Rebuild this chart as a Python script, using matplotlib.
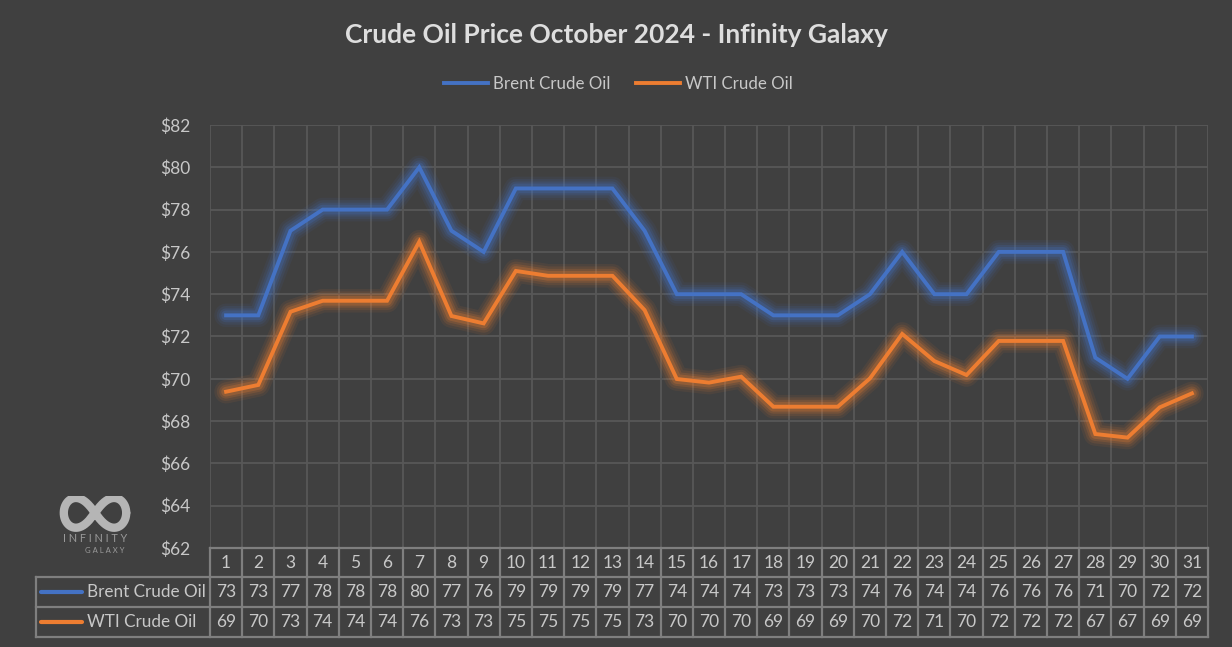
import numpy as np
import matplotlib
matplotlib.use("Agg")
import matplotlib.pyplot as plt
from matplotlib.ticker import FuncFormatter

plt.rcParams['font.family'] = ['Lato', 'DejaVu Sans']

# data
days = list(range(1, 32))
brent = [73, 73, 77, 78, 78, 78, 80, 77, 76, 79, 79, 79, 79, 77, 74, 74,
         74, 73, 73, 73, 74, 76, 74, 74, 76, 76, 76, 71, 70, 72, 72]
wti = [69.39, 69.71, 73.17, 73.69, 73.69, 73.69, 76.48, 72.97, 72.62, 75.10,
       74.87, 74.87, 74.87, 73.25, 69.99, 69.82, 70.10, 68.68, 68.68, 68.68,
       70.02, 72.12, 70.84, 70.18, 71.79, 71.79, 71.79, 67.39, 67.22, 68.65, 69.31]
series_names = ['Brent Crude Oil', 'WTI Crude Oil']
series_colors = ['#4472C4', '#ED7D31']
title = 'Crude Oil Price October 2024 - Infinity Galaxy'

BG = '#404040'
TXT = '#c8c8c8'
GRID = '#585858'
TBL = '#7f7f7f'

W, H = 1232, 647
fig = plt.figure(figsize=(W / 100, H / 100), dpi=100, facecolor=BG)

# plot area in pixels: x 210..1208, y 125..548
ax = fig.add_axes([210 / W, (H - 548) / H, 998 / W, 423 / H])
ax.set_facecolor(BG)
ax.set_xlim(0.5, 31.5)
ax.set_ylim(62, 82)
ax.set_yticks(np.arange(62, 83, 2))
ax.yaxis.set_major_formatter(FuncFormatter(lambda v, p: f'${v:.0f}'))
ax.set_xticks(np.arange(0.5, 32, 1))
ax.set_xticklabels([])
ax.tick_params(length=0, colors=TXT, labelsize=12.5, pad=14)
ax.grid(True, color=GRID, lw=1.3)
ax.set_axisbelow(True)
for s in ax.spines.values():
    s.set_visible(False)

# lines with glow
handles = []
for vals, col, name in zip([brent, wti], series_colors, series_names):
    for lw, a in [(17, 0.08), (13.5, 0.11), (10, 0.16), (7, 0.24)]:
        ax.plot(days, vals, color=col, lw=lw, alpha=a, solid_capstyle='round',
                solid_joinstyle='round', zorder=2)
    h, = ax.plot(days, vals, color=col, lw=2.8, solid_joinstyle='miter', zorder=3, label=name)
    handles.append(h)

fig.text(616 / W, 1 - 35 / H, title, ha='center', va='center', fontsize=19,
         fontweight='bold', color='#dedede')

leg = fig.legend(handles=handles, loc='center', bbox_to_anchor=(618 / W, 1 - 84 / H),
                 ncol=2, frameon=False, fontsize=12.2, handlelength=2.6,
                 handletextpad=0.3, columnspacing=1.5)
for t in leg.get_texts():
    t.set_color(TXT)

# data table under the plot
tr = ax.get_xaxis_transform()
px = 1 / 423
rows = [0, -29 * px, -59 * px, -89 * px]
left = 0.5 - 174 / (998 / 31)
kw = dict(transform=tr, clip_on=False, color=TBL, lw=1.6, zorder=4)
ax.plot([0.5, 31.5], [rows[0], rows[0]], **kw)
for r in rows[1:]:
    ax.plot([left, 31.5], [r, r], **kw)
for x in np.arange(0.5, 32, 1):
    ax.plot([x, x], [rows[0], rows[3]], **kw)
ax.plot([left, left], [rows[1], rows[3]], **kw)

for d in days:
    ax.text(d, (rows[0] + rows[1]) / 2, str(d), transform=tr, ha='center',
            va='center', fontsize=12.5, color=TXT)
for i, vals in enumerate([brent, wti]):
    yc = (rows[i + 1] + rows[i + 2]) / 2
    for d, v in zip(days, vals):
        ax.text(d, yc, f'{v:.0f}', transform=tr, ha='center', va='center',
                fontsize=12.5, color=TXT)
    ax.plot([left + 5 / 32.19, left + 46 / 32.19], [yc, yc], transform=tr,
            clip_on=False, color=series_colors[i], lw=3, solid_capstyle='round')
    ax.text(left + 51 / 32.19, yc, series_names[i], transform=tr, ha='left',
            va='center', fontsize=12.3, color=TXT)

# logo
lax = fig.add_axes([56 / W, (H - 562) / H, 78 / W, 66 / H])
lax.set_xlim(-1.25, 1.25)
lax.set_ylim(-1.5, 0.85)
lax.axis('off')
t = np.linspace(0, 2 * np.pi, 300)
lx = np.cos(t) / (1 + np.sin(t) ** 2)
ly = 1.5 * np.sin(t) * np.cos(t) / (1 + np.sin(t) ** 2)
lax.plot(lx * 1.0, ly + 0.25, color='#b5b5b5', lw=6, solid_capstyle='round')
lax.text(0, -0.65, 'I N F I N I T Y', ha='center', va='center', fontsize=7.8, color='#9a9a9a')
lax.text(0.3, -1.1, 'G A L A X Y', ha='center', va='center', fontsize=5.5, color='#9a9a9a')

fig.savefig('out.png', dpi=100, facecolor=BG)
